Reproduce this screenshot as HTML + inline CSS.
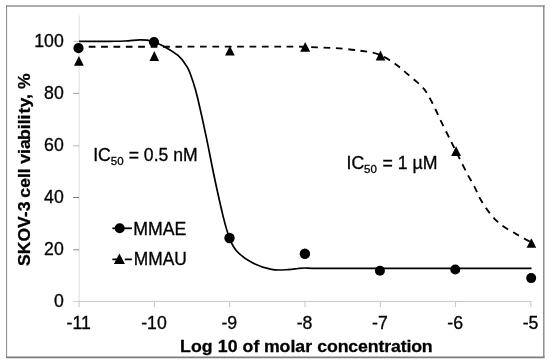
<!DOCTYPE html>
<html><head><meta charset="utf-8"><title>chart</title>
<style>
html,body{margin:0;padding:0;background:#fff;}
svg{display:block;}
text{font-family:"Liberation Sans",Arial,sans-serif;fill:#000;stroke:#000;stroke-width:0.3px;}
</style></head><body>
<svg width="550" height="362" viewBox="0 0 550 362">
<rect x="0" y="0" width="550" height="362" fill="#fff"/>
<g stroke="#888" fill="none">
<line x1="6.6" y1="5.3" x2="6.6" y2="357.9" stroke-width="1.05" stroke="#8c8c8c"/>
<line x1="6" y1="6" x2="544.5" y2="6" stroke-width="1.4" stroke="#909090"/>
<line x1="543.8" y1="5.3" x2="543.8" y2="357.9" stroke-width="1.5" stroke="#8c8c8c"/>
<line x1="6" y1="357.4" x2="544.5" y2="357.4" stroke-width="1.6" stroke="#7c7c7c"/>
</g>

<g stroke="#c4c4c8" stroke-width="1" fill="none">
<line x1="79.1" y1="15.4" x2="79.1" y2="301.4" stroke="#dcdcdc"/>
<line x1="79.1" y1="301.4" x2="530.9" y2="301.4"/>
<line x1="73.2" y1="41.3" x2="79.1" y2="41.3" stroke="#b8b8b8" stroke-width="0.9"/>
<line x1="73.2" y1="93.4" x2="79.1" y2="93.4" stroke="#9494a8" stroke-width="0.9"/>
<line x1="73.2" y1="145.8" x2="79.1" y2="145.8" stroke="#a8a8a8" stroke-width="0.9"/>
<line x1="73.2" y1="197.5" x2="79.1" y2="197.5" stroke="#68686e" stroke-width="0.9"/>
<line x1="73.2" y1="249.8" x2="79.1" y2="249.8" stroke="#7c7c84" stroke-width="0.9"/>
<line x1="73.2" y1="301.4" x2="79.1" y2="301.4" stroke="#c4c4c8" stroke-width="0.9"/>
<line x1="79.1" y1="301.4" x2="79.1" y2="307.09999999999997"/>
<line x1="154.4" y1="301.4" x2="154.4" y2="307.09999999999997"/>
<line x1="229.7" y1="301.4" x2="229.7" y2="307.09999999999997"/>
<line x1="305.0" y1="301.4" x2="305.0" y2="307.09999999999997"/>
<line x1="380.3" y1="301.4" x2="380.3" y2="307.09999999999997"/>
<line x1="455.6" y1="301.4" x2="455.6" y2="307.09999999999997"/>
<line x1="530.9" y1="301.4" x2="530.9" y2="307.09999999999997"/>
</g>
<g font-size="17.7px">
<text x="63.8" y="307.4" text-anchor="end">0</text>
<text x="63.8" y="255.4" text-anchor="end">20</text>
<text x="63.8" y="203.4" text-anchor="end">40</text>
<text x="63.8" y="151.4" text-anchor="end">60</text>
<text x="63.8" y="99.4" text-anchor="end">80</text>
<text x="63.8" y="47.4" text-anchor="end">100</text>
<text x="78.7" y="328.6" text-anchor="middle">-11</text>
<text x="154.0" y="328.6" text-anchor="middle">-10</text>
<text x="229.3" y="328.6" text-anchor="middle">-9</text>
<text x="304.6" y="328.6" text-anchor="middle">-8</text>
<text x="379.9" y="328.6" text-anchor="middle">-7</text>
<text x="455.2" y="328.6" text-anchor="middle">-6</text>
<text x="530.5" y="328.6" text-anchor="middle">-5</text>
</g>
<text transform="translate(180.1,352.2) scale(1,0.96)" font-size="17.7px" font-weight="bold" stroke="none">Log<tspan dx="0.4"> 10</tspan><tspan dx="0.2"> of</tspan><tspan dx="-0.3"> molar</tspan><tspan dx="0.5" letter-spacing="-0.13px"> concentration</tspan></text>
<text transform="translate(30.0,266.0) rotate(-90) scale(1,0.955)" font-size="17.6px" font-weight="bold" stroke="none">SKOV-3<tspan dx="-1"> cell</tspan><tspan dx="-0.3"> via</tspan><tspan dx="-0.7">bili</tspan><tspan dx="1.2">ty,</tspan><tspan dx="0.4"> %</tspan></text>
<path d="M79.1,41.3 C84.2,41.3 102.3,41.3 110,41.3 C117.7,41.2 120.1,41.2 125,41.0 C129.9,40.8 135.7,40.0 139.4,39.9 C143.1,39.8 144.6,39.9 147,40.2 C149.4,40.6 151.0,40.9 154,42.0 C157.0,43.1 160.9,44.7 165,47.0 C169.1,49.3 174.6,52.3 178.3,55.7 C182.0,59.1 184.9,62.9 187.4,67.3 C189.9,71.7 191.5,77.0 193.2,82.3 C194.9,87.5 195.6,89.5 197.8,98.8 C200.0,108.1 203.7,124.6 206.5,138.1 C209.3,151.6 212.1,166.7 214.9,179.8 C217.7,192.9 220.8,206.9 223.2,216.6 C225.6,226.3 227.3,232.4 229.5,238.1 C231.7,243.8 232.9,247.0 236.6,251.0 C240.3,255.0 245.7,259.2 251.5,262.3 C257.3,265.4 265.3,268.2 271.4,269.4 C277.5,270.6 283.6,269.8 288,269.6 C292.4,269.5 295.2,268.8 298,268.5 C300.8,268.2 302.2,268.0 304.5,268.0 C306.8,268.0 307.8,268.2 312,268.3 C316.2,268.4 315.3,268.3 330,268.3 C344.7,268.3 366.4,268.3 400,268.3 C433.6,268.3 509.6,268.3 531.5,268.3" fill="none" stroke="#000" stroke-width="1.7" stroke-linejoin="round"/>
<path d="M79.1,46.7 C95.9,46.7 145.3,46.7 180,46.7 C214.7,46.7 266.2,46.6 287,46.6 C307.8,46.6 297.8,46.7 305,46.9 C312.2,47.1 323.2,47.5 330,47.9 C336.8,48.2 341.0,48.5 346,49 C351.0,49.5 355.8,50.1 360,50.7 C364.2,51.3 368.2,51.7 371.5,52.4 C374.8,53.1 376.9,53.7 379.8,54.9 C382.7,56.1 385.9,57.9 389,59.8 C392.1,61.7 395.2,63.9 398.1,66.1 C401.0,68.3 403.4,70.5 406.4,73.1 C409.4,75.6 413.3,78.7 416.3,81.4 C419.3,84.1 422.0,86.3 424.4,89.4 C426.8,92.5 428.7,96.2 430.7,99.9 C432.7,103.6 434.6,107.5 436.5,111.5 C438.4,115.5 440.4,119.9 442.3,123.9 C444.2,127.9 446.6,132.4 448.1,135.5 C449.6,138.6 449.7,138.8 451.5,142.4 C453.3,146.0 456.4,152.1 459,157.3 C461.6,162.6 464.7,168.9 467.3,173.9 C469.9,178.9 472.7,183.2 474.8,187.3 C476.9,191.4 477.8,194.5 479.9,198.3 C482.0,202.1 484.7,206.3 487.3,209.9 C489.9,213.5 492.7,216.9 495.6,219.8 C498.5,222.7 501.2,224.9 504.7,227.3 C508.1,229.7 512.7,232.0 516.3,234.1 C519.9,236.2 523.8,238.3 526.3,239.7 C528.8,241.1 530.6,241.9 531.5,242.4" fill="none" stroke="#000" stroke-width="1.85" stroke-dasharray="6.7 5.65" stroke-dashoffset="2.55"/>
<circle cx="78.5" cy="48.1" r="5.1" fill="#000"/>
<circle cx="154.0" cy="42.0" r="5.1" fill="#000"/>
<circle cx="229.5" cy="238.0" r="5.2" fill="#000"/>
<circle cx="304.9" cy="253.8" r="5.2" fill="#000"/>
<circle cx="379.9" cy="270.7" r="5.0" fill="#000"/>
<circle cx="455.3" cy="269.5" r="5.0" fill="#000"/>
<circle cx="531.2" cy="278.1" r="5.0" fill="#000"/>
<polygon points="78.9,55.9 83.8,65.8 74.0,65.8" fill="#000"/>
<polygon points="154.3,50.9 159.1,60.9 149.5,60.9" fill="#000"/>
<polygon points="229.9,45.7 234.7,55.4 225.1,55.4" fill="#000"/>
<polygon points="305.2,42.1 310.2,51.8 300.2,51.8" fill="#000"/>
<polygon points="380.5,50.4 385.3,60.6 375.7,60.6" fill="#000"/>
<polygon points="456.1,146.3 461.0,156.0 451.2,156.0" fill="#000"/>
<polygon points="531.4,238.3 536.2,247.8 526.6,247.8" fill="#000"/>
<line x1="112.4" y1="228.3" x2="131.9" y2="228.3" stroke="#000" stroke-width="1.8"/><circle cx="119.7" cy="228.3" r="5" fill="#000"/>
<line x1="112.4" y1="259.3" x2="131.9" y2="259.3" stroke="#000" stroke-width="1.7" stroke-dasharray="7.2 5.2"/><polygon points="119.4,253.5 124.9,264.1 113.9,264.1" fill="#000"/>
<text x="133.2" y="234.6" font-size="17.7px">MMAE</text>
<text x="133.8" y="265.1" font-size="17.7px" textLength="53" lengthAdjust="spacingAndGlyphs">MMAU</text>
<text x="93.2" y="161" font-size="17.7px">IC<tspan x="110.8" y="165.1" font-size="11.5px">50 </tspan><tspan x="128.7" y="161" textLength="69" lengthAdjust="spacingAndGlyphs">= 0.5 nM</tspan></text>
<text x="346.5" y="168.8" font-size="17.7px">IC<tspan x="364.1" y="172.8" font-size="11.5px">50 </tspan><tspan x="382.4" y="168.8" textLength="55" lengthAdjust="spacingAndGlyphs">= 1 µM</tspan></text>
</svg></body></html>
